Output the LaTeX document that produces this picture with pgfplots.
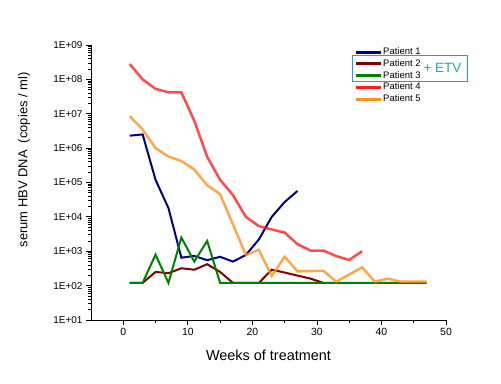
\documentclass[border=0pt]{standalone}
\usepackage{fontspec}
\setmainfont{Liberation Sans}
\usepackage{pgfplots}
\pgfplotsset{compat=1.18}
\definecolor{p1}{RGB}{0,0,128}
\definecolor{p2}{RGB}{128,0,0}
\definecolor{p3}{RGB}{0,128,0}
\definecolor{p4}{RGB}{255,30,30}
\definecolor{p5}{RGB}{255,145,30}
\definecolor{etv}{RGB}{27,161,226}
\begin{document}
\begin{tikzpicture}
\begin{axis}[
  name=ax, at={(0,0)}, anchor=south west,
  scale only axis, width=355bp, height=275bp,
  ymode=log, xmin=-5, xmax=50, ymin=1e1, ymax=1e9,
  axis lines*=left, tick align=outside, tick pos=left,
  xtick={0,10,20,30,40,50}, minor x tick num=1,
  ytick={1e1,1e2,1e3,1e4,1e5,1e6,1e7,1e8,1e9},
  yticklabels={1E+01,1E+02,1E+03,1E+04,1E+05,1E+06,1E+07,1E+08,1E+09},
  major tick length=5bp, minor tick length=3bp,
  every tick/.style={black, line width=0.8pt},
  axis line style={line width=0.8pt},
  /pgf/number format/assume math mode=true,
  ticklabel style={font=\fontsize{10.5}{12}\selectfont},
  yticklabel style={font=\fontsize{10}{11}\selectfont},
  xlabel={Weeks of treatment},
  ylabel={serum HBV DNA\ \ (copies / ml)},
  xlabel style={font=\fontsize{14.5}{16}\selectfont, at={(axis description cs:0.5,-0.127)}, anchor=center},
  ylabel style={font=\fontsize{13}{15}\selectfont, at={(axis description cs:-0.189,0.582)}, anchor=center},
  legend style={draw=none, fill=none, at={(axis description cs:0.741,0.991)}, anchor=north west,
    font=\fontsize{9.5}{10}\selectfont, row sep=2.75bp, inner sep=0pt, column sep=1bp,
    nodes={inner sep=0pt, text height=7bp, text depth=2bp}},
  legend cell align=left,
  legend image code/.code={\draw[#1, line width=3pt, opacity=1] (0bp,0bp) -- (25bp,0bp);},
  clip=false,
]
\addplot[p1, line width=2pt] coordinates {
(1,2.3e6) (3,2.5e6) (5,1.2e5) (7,1.8e4) (9,650) (11,730) (13,550) (15,690) (17,500) (19,780) (21,2200) (23,1.0e4) (25,2.7e4) (27,5.7e4)};
\addlegendentry{Patient 1}
\addplot[p2, line width=2pt] coordinates {
(1,120) (3,120) (5,250) (7,230) (9,320) (11,290) (13,420) (15,250) (17,120) (19,120) (21,120) (23,290) (25,240) (27,196) (29,160) (31,120)};
\addlegendentry{Patient 2}
\addplot[p3, line width=2pt] coordinates {
(1,120) (3,120) (5,800) (7,120) (9,2500) (11,500) (13,2000) (15,120) (47,120)};
\addlegendentry{Patient 3}
\addplot[p4, line width=2.5pt, opacity=0.8] coordinates {
(1,2.8e8) (3,1.0e8) (5,5.3e7) (7,4.2e7) (9,4.2e7) (11,6.3e6) (13,5.6e5) (15,1.2e5) (17,4.3e4) (19,1.0e4) (21,5.4e3) (23,4.3e3) (25,3.5e3) (27,1.6e3) (29,1.05e3) (31,1.05e3) (33,720) (35,560) (37,1.0e3)};
\addlegendentry{Patient 4}
\addplot[p5, line width=2.5pt, opacity=0.8] coordinates {
(1,8.5e6) (3,3.5e6) (5,1.0e6) (7,5.7e5) (9,4.2e5) (11,2.4e5) (13,8.3e4) (15,4.6e4) (19,780) (21,1.1e3) (23,190) (25,690) (27,260) (29,265) (31,270) (33,130) (37,340) (39,130) (41,160) (43,130) (47,130)};
\addlegendentry{Patient 5}
\draw[etv, line width=0.9pt] (axis description cs:0.736,0.962) rectangle (axis description cs:1.059,0.869);
\node[etv, font=\fontsize{13.5}{15}\selectfont, anchor=center] at (axis description cs:0.99,0.917) {+ ETV};
\end{axis}
\useasboundingbox (-91bp,-64bp) rectangle (410bp,320bp);
\end{tikzpicture}
\end{document}
